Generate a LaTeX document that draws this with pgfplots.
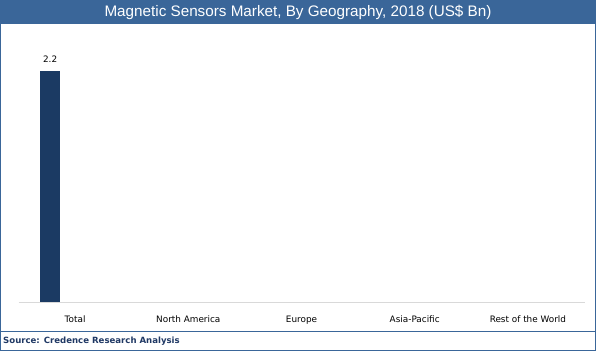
\documentclass[border=0pt]{standalone}
\usepackage{pgfplots}
\pgfplotsset{compat=1.18}
\usepackage{fontspec}
\setmainfont{DejaVu Sans}
\newfontfamily\titlefont{Liberation Sans}
\definecolor{frameblue}{HTML}{3A6699}
\definecolor{barblue}{HTML}{1B3A63}
\definecolor{srcblue}{HTML}{1F3864}
\begin{document}
\begin{tikzpicture}[x=1bp,y=1bp]
\useasboundingbox (0,0) rectangle (596,351);
\fill[frameblue] (0,327) rectangle (596,351);
\node[text=white,font=\titlefont\fontsize{15.3}{17}\selectfont] at (298,339) {Magnetic Sensors Market, By Geography, 2018 (US\$ Bn)};
\draw[frameblue,line width=1.2bp] (0.6,0.6) rectangle (595.4,350.4);
\draw[frameblue,line width=1bp] (0,20) -- (596,20);
\node[anchor=west,text=srcblue,font=\bfseries\fontsize{8.6}{10}\selectfont,inner sep=0pt] at (3,10) {Source: Credence Research Analysis};
\begin{axis}[
  at={(18.5bp,49bp)}, anchor=south west,
  scale only axis, width=566bp, height=262.5bp,
  xmin=-0.5, xmax=4.5, ymin=0, ymax=2.5,
  axis x line=bottom, axis y line=none,
  x axis line style={draw=black!15, -, line width=0.8bp},
  xtick={0,1,2,3,4},
  xticklabels={Total,North America,Europe,Asia-Pacific,Rest of the World},
  major tick length=0pt,
  xticklabel style={font=\fontsize{8.9}{10}\selectfont, yshift=-8bp, text height=1.6ex, text depth=0.4ex},
  ybar, bar width=20bp, bar shift=-25bp,
  nodes near coords,
  /pgf/number format/assume math mode=true,
  every node near coord/.append style={font=\fontsize{8.9}{10}\selectfont, text=black, yshift=5bp},
  clip=false,
]
\addplot[fill=barblue, draw=none] coordinates {(0,2.2)};
\end{axis}
\end{tikzpicture}
\end{document}
